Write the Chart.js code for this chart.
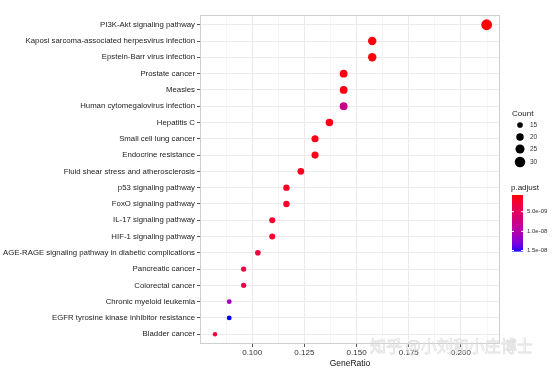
<!DOCTYPE html>
<html>
<head>
<meta charset="utf-8">
<script src="https://cdn.jsdelivr.net/npm/chart.js@4/dist/chart.umd.min.js"></script>
<style>
  html, body { margin: 0; padding: 0; background: #fff; }
  #wrap { width: 554px; height: 369px; }
</style>
</head>
<body>
<div id="wrap"><canvas id="dotChart" width="554" height="369"></canvas></div>
<script>
const pathways = [
  "PI3K-Akt signaling pathway",
  "Kaposi sarcoma-associated herpesvirus infection",
  "Epstein-Barr virus infection",
  "Prostate cancer",
  "Measles",
  "Human cytomegalovirus infection",
  "Hepatitis C",
  "Small cell lung cancer",
  "Endocrine resistance",
  "Fluid shear stress and atherosclerosis",
  "p53 signaling pathway",
  "FoxO signaling pathway",
  "IL-17 signaling pathway",
  "HIF-1 signaling pathway",
  "AGE-RAGE signaling pathway in diabetic complications",
  "Pancreatic cancer",
  "Colorectal cancer",
  "Chronic myeloid leukemia",
  "EGFR tyrosine kinase inhibitor resistance",
  "Bladder cancer"
];
const geneRatio = [0.2123, 0.1575, 0.1575, 0.1438, 0.1438, 0.1438, 0.1370, 0.1301, 0.1301, 0.1233,
                   0.1164, 0.1164, 0.1096, 0.1096, 0.1027, 0.0959, 0.0959, 0.0890, 0.0890, 0.0822];
const counts = [31, 23, 23, 21, 21, 21, 20, 19, 19, 18, 17, 17, 16, 16, 15, 14, 14, 13, 13, 12];
const pAdjust = [7.5e-10, 1.0e-9, 1.0e-9, 1.1e-9, 1.2e-9, 7.8e-9, 1.3e-9, 1.4e-9, 1.5e-9, 1.6e-9,
                 1.9e-9, 2.1e-9, 2.3e-9, 2.5e-9, 3.3e-9, 3.6e-9, 3.9e-9, 1.1e-8, 1.5e-8, 3.0e-9];
const xMajorTicks = [0.100, 0.125, 0.150, 0.175, 0.200];
const xMinorTicks = [0.0875, 0.1125, 0.1375, 0.1625, 0.1875, 0.2125];
const countLegend = [15, 20, 25, 30];
const pLegend = [5.0e-9, 1.0e-8, 1.5e-8];
const pLegendLabels = ["5.0e-09", "1.0e-08", "1.5e-08"];

// colour: red -> blue, interpolated in Lab like ggplot
function toLab(rgb) {
  const lin = rgb.map(c => { c /= 255; return c <= 0.04045 ? c / 12.92 : Math.pow((c + 0.055) / 1.055, 2.4); });
  const X = (0.4124 * lin[0] + 0.3576 * lin[1] + 0.1805 * lin[2]) / 0.95047;
  const Y = (0.2126 * lin[0] + 0.7152 * lin[1] + 0.0722 * lin[2]);
  const Z = (0.0193 * lin[0] + 0.1192 * lin[1] + 0.9505 * lin[2]) / 1.08883;
  const f = t => t > 0.008856 ? Math.cbrt(t) : 7.787 * t + 16 / 116;
  const fx = f(X), fy = f(Y), fz = f(Z);
  return [116 * fy - 16, 500 * (fx - fy), 200 * (fy - fz)];
}
function fromLab(lab) {
  const fy = (lab[0] + 16) / 116, fx = fy + lab[1] / 500, fz = fy - lab[2] / 200;
  const inv = t => t * t * t > 0.008856 ? t * t * t : (t - 16 / 116) / 7.787;
  const X = inv(fx) * 0.95047, Y = inv(fy), Z = inv(fz) * 1.08883;
  const r = 3.2406 * X - 1.5372 * Y - 0.4986 * Z;
  const g = -0.9689 * X + 1.8758 * Y + 0.0415 * Z;
  const b = 0.0557 * X - 0.2040 * Y + 1.0570 * Z;
  const gam = c => {
    c = c <= 0.0031308 ? 12.92 * c : 1.055 * Math.pow(c, 1 / 2.4) - 0.055;
    return Math.round(Math.max(0, Math.min(1, c)) * 255);
  };
  return `rgb(${gam(r)},${gam(g)},${gam(b)})`;
}
const labLow = toLab([255, 0, 0]);
const labHigh = toLab([0, 0, 255]);
const pMin = Math.min(...pAdjust), pMax = Math.max(...pAdjust);
function pColor(p) {
  const t = Math.max(0, Math.min(1, (p - pMin) / (pMax - pMin)));
  return fromLab(labLow.map((v, i) => v + (labHigh[i] - v) * t));
}

// size: area scale like ggplot
const cMin = Math.min(...counts), cMax = Math.max(...counts);
function countRadius(c) {
  const t = (Math.sqrt(c) - Math.sqrt(cMin)) / (Math.sqrt(cMax) - Math.sqrt(cMin));
  return 2.2 + t * 3.2;
}

const points = pathways.map((name, i) => ({ x: geneRatio[i], y: i }));

const FONT = "'Liberation Sans', Arial, sans-serif";

const framePlugin = {
  id: "frame",
  beforeDatasetsDraw(chart) {
    const a = chart.chartArea, ctx = chart.ctx;
    ctx.save();
    ctx.strokeStyle = "#cfcfcf";
    ctx.lineWidth = 1;
    ctx.strokeRect(a.left + 0.5, a.top + 0.5, a.right - a.left - 1, a.bottom - a.top - 1);
    ctx.restore();
  }
};

const legendPlugin = {
  id: "sideLegend",
  afterDraw(chart) {
    const ctx = chart.ctx;
    ctx.save();
    // Count legend
    ctx.fillStyle = "#222";
    ctx.font = "8px " + FONT;
    ctx.textBaseline = "middle";
    ctx.textAlign = "left";
    ctx.fillText("Count", 512, 114);
    const cy = [125, 137, 149, 162];
    countLegend.forEach((c, i) => {
      ctx.beginPath();
      ctx.fillStyle = "#000";
      ctx.arc(520, cy[i], countRadius(c), 0, Math.PI * 2);
      ctx.fill();
      ctx.fillStyle = "#333";
      ctx.font = "6.5px " + FONT;
      ctx.fillText(String(c), 530, cy[i]);
    });

    // p.adjust colour bar
    ctx.fillStyle = "#222";
    ctx.font = "8px " + FONT;
    ctx.fillText("p.adjust", 511, 188);
    const top = 195, bottom = 251, left = 512, right = 523;
    const steps = 56;
    for (let s = 0; s < steps; s++) {
      const p = pMin + (pMax - pMin) * (s + 0.5) / steps;
      ctx.fillStyle = pColor(p);
      ctx.fillRect(left, top + (bottom - top) * s / steps, right - left, (bottom - top) / steps + 0.6);
    }
    pLegend.forEach((p, i) => {
      const y = Math.min(bottom - 0.5, top + (bottom - top) * (p - pMin) / (pMax - pMin));
      ctx.strokeStyle = "#fff";
      ctx.lineWidth = 1;
      ctx.beginPath();
      ctx.moveTo(left, y); ctx.lineTo(left + 2, y);
      ctx.moveTo(right - 2, y); ctx.lineTo(right, y);
      ctx.stroke();
      ctx.fillStyle = "#333";
      ctx.font = "6px " + FONT;
      ctx.fillText(pLegendLabels[i], 527, y);
    });

    // watermark
    ctx.font = "16px 'Noto Sans CJK SC', sans-serif";
    ctx.textBaseline = "middle";
    ctx.lineWidth = 0.8;
    ctx.fillStyle = "rgba(255,255,255,0.5)";
    ctx.strokeStyle = "rgba(200,200,200,0.55)";
    ctx.fillText("知乎 @小刘和小庄博士", 370, 346);
    ctx.strokeText("知乎 @小刘和小庄博士", 370, 346);
    ctx.restore();
  }
};

new Chart(document.getElementById("dotChart"), {
  type: "scatter",
  data: {
    datasets: [{
      data: points,
      pointRadius: counts.map(countRadius),
      pointHoverRadius: counts.map(countRadius),
      pointBackgroundColor: pAdjust.map(pColor),
      pointBorderWidth: 0,
      pointBorderColor: "rgba(0,0,0,0)"
    }]
  },
  options: {
    responsive: false,
    animation: false,
    events: [],
    layout: { padding: { left: 0, right: 54, top: 15, bottom: 0 } },
    plugins: { legend: { display: false }, tooltip: { enabled: false } },
    scales: {
      x: {
        type: "linear",
        min: 0.075,
        max: 0.2187,
        afterBuildTicks(scale) {
          scale.ticks = [...xMinorTicks, ...xMajorTicks].sort((a, b) => a - b).map(v => ({ value: v }));
        },
        afterFit(scale) { scale.height = 25; },
        ticks: {
          autoSkip: false,
          maxRotation: 0,
          padding: 1,
          color: "#333",
          font: { family: FONT, size: 8 },
          callback: v => xMajorTicks.some(m => Math.abs(m - v) < 1e-6) ? v.toFixed(3) : ""
        },
        grid: {
          color: ctx => xMajorTicks.some(m => Math.abs(m - ctx.tick.value) < 1e-6) ? "#ebebeb" : "#f5f5f5",
          tickColor: ctx => xMajorTicks.some(m => Math.abs(m - ctx.tick.value) < 1e-6) ? "#555" : "rgba(0,0,0,0)",
          tickLength: 3
        },
        border: { display: false },
        title: {
          display: true,
          text: "GeneRatio",
          color: "#111",
          font: { family: FONT, size: 8.5 },
          padding: { top: 0, bottom: 0 }
        }
      },
      y: {
        type: "linear",
        reverse: true,
        min: -0.6,
        max: pathways.length - 0.4,
        afterBuildTicks(scale) {
          scale.ticks = pathways.map((p, i) => ({ value: i }));
        },
        afterFit(scale) { scale.width = 200; },
        ticks: {
          autoSkip: false,
          padding: 2,
          color: "#222",
          font: { family: FONT, size: 7.8 },
          callback: v => pathways[v] ?? ""
        },
        grid: { color: "#ebebeb", tickColor: "#555", tickLength: 3 },
        border: { display: false }
      }
    }
  },
  plugins: [framePlugin, legendPlugin]
});
</script>
</body>
</html>
